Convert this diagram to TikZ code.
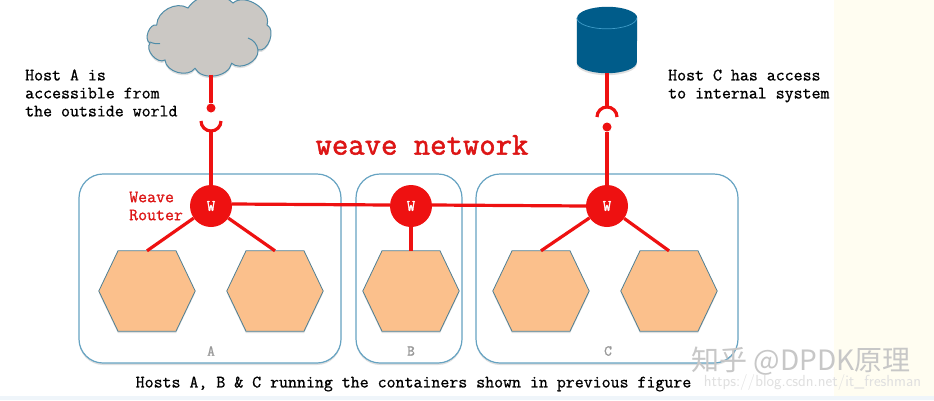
\documentclass[tikz,border=0pt]{standalone}
\usepackage{fontspec}
\newfontfamily\typefont[RawFeature={embolden=0.9}]{Latin Modern Mono}
\newfontfamily\heavyfont[RawFeature={embolden=1.6}]{Latin Modern Mono}
\newfontfamily\cjkfont{Noto Sans CJK SC}
\usetikzlibrary{shapes.geometric,shadows,calc}
\definecolor{weavered}{HTML}{EE1111}
\definecolor{titlered}{HTML}{DD1515}
\definecolor{hostblue}{HTML}{66A3C2}
\definecolor{hexfill}{HTML}{FBC08C}
\definecolor{hexline}{HTML}{4F7F93}
\definecolor{dbblue}{HTML}{005C8A}
\definecolor{dbrim}{HTML}{3F9CC8}
\definecolor{cloudgrey}{HTML}{CBC8C4}
\definecolor{cloudline}{HTML}{4F8CA8}
\definecolor{creamback}{HTML}{FFFDF1}
\definecolor{paleback}{HTML}{EFF5FA}
\tikzset{
  softshadow/.style = {drop shadow = {shadow xshift = 0pt, shadow yshift = -2pt, opacity = 0.25}},
  hostbox/.style = {draw = hostblue, line width = 1.2pt, rounded corners = 24pt, softshadow, fill = white, inner sep = 0pt},
  hexbox/.style = {minimum width = 96pt, minimum height = 80pt, inner sep = 0pt},
  redline/.style = {draw = weavered, line width = 3.2pt},
  routernode/.style = {circle, fill = weavered, minimum size = 42pt, inner sep = 0pt, text = white, font = \heavyfont\fontsize{16}{16}\selectfont},
  dotnode/.style = {circle, fill = weavered, minimum size = 9pt, inner sep = 0pt},
  note/.style = {font = \typefont\fontsize{17.4}{18}\selectfont, align = left, anchor = west, inner sep = 0pt},
  hostlabel/.style = {font = \heavyfont\fontsize{15}{15}\selectfont, text = black!40, inner sep = 0pt}
}
\begin{document}
\begin{tikzpicture}[x = 1pt, y = -1pt]
\useasboundingbox (0, 0) rectangle (934, 400);
\fill[white] (0, 0) rectangle (934, 400);
\fill[creamback] (834, 0) rectangle (934, 396);
\fill[paleback] (0, 396) rectangle (934, 400);
% cloud
\node[minimum width = 130pt, minimum height = 75pt, inner sep = 0pt] (cloudA) at (211, 37) {};
\draw[cloudline, line width = 1pt, fill = cloudgrey, softshadow] (231.7, 63.3) to[bend left = 70] (195, 68.3) to[bend left = 70] (165, 60) to[bend left = 80] (150, 43) to[bend left = 85] (156.7, 25) to[bend left = 60] (188, 8) to[bend left = 50] (233, 3) to[bend left = 75] (267, 25) to[bend left = 85] (258, 50) to[bend left = 70] cycle;
\draw[cloudline, line width = 1pt] (248, 38) to[bend left = 30] (258, 50);
\draw[cloudline, line width = 1pt] (150, 42) to[bend right = 15] (160, 43.5);
% database
\node[minimum width = 60pt, minimum height = 66pt, inner sep = 0pt] (dbC) at (607, 40) {};
\draw[fill = dbblue, draw = none, softshadow] ([yshift = -11pt]dbC.north west) -- ([yshift = 11pt]dbC.south west) arc[x radius = 30pt, y radius = 11pt, start angle = 180, end angle = 360] -- ([yshift = -11pt]dbC.north east) arc[x radius = 30pt, y radius = 11pt, start angle = 0, end angle = 180] -- cycle;
\draw[dbrim, line width = 0.7pt] ([yshift = -11pt]dbC.north west) arc[x radius = 30pt, y radius = 11pt, start angle = 180, end angle = 360];
\node[hostbox, minimum width = 262pt, minimum height = 189pt] (hostA) at (210, 268.5) {};
\node[hostbox, minimum width = 106pt, minimum height = 189pt] (hostB) at (409, 268.5) {};
\node[hostbox, minimum width = 262pt, minimum height = 189pt] (hostC) at (607, 268.5) {};
\foreach \name/\x in {hexA/147, hexB/275, hexC/411, hexD/541, hexE/669}{
  \node[hexbox] (\name) at (\x, 291) {};
  \draw[hexline, line width = 0.8pt, fill = hexfill, softshadow] (\name.west) -- ([xshift = -29pt]\name.north) -- ([xshift = 29pt]\name.north) -- (\name.east) -- ([xshift = 29pt]\name.south) -- ([xshift = -29pt]\name.south) -- cycle;
}
\node[routernode] (wA) at (211, 206) {W};
\node[routernode] (wB) at (411, 206) {W};
\node[routernode] (wC) at (607, 206) {W};
\node[dotnode] (dotA) at (211, 108) {};
\node[dotnode] (dotC) at (607, 127) {};
\coordinate (cupA) at (211, 131);
\coordinate (capC) at (607, 107);
% links between the routers
\draw[redline] ([yshift = 2pt]wA.east) -- ([yshift = 1pt]wB.west);
\draw[redline] ([yshift = 1pt]wB.east) -- (wC.west);
\foreach \a/\b in {wA/hexA, wA/hexB, wB/hexC, wC/hexD, wC/hexE}{\draw[redline] (\a) -- (\b.north);}
\draw[redline] (cloudA.south) -- (dotA);
\draw[redline] (cupA) -- (wA);
\draw[redline] (dbC.south) -- (capC);
\draw[redline] (dotC) -- (wC);
\draw[redline] ($(cupA) + (-10pt, 10pt)$) arc[start angle = 180, end angle = 360, radius = 10pt];
\draw[redline] ($(capC) + (-10pt, -10pt)$) arc[start angle = 180, end angle = 0, radius = 10pt];
\node[note] (noteA) at (25, 93) {Host A is\\accessible from\\the outside world};
\node[note] (noteC) at (668, 86) {Host C has access\\to internal system};
\node[note, text = titlered] (noteW) at (129, 206) {Weave\\Router};
\node[font = \heavyfont\fontsize{31.8}{30}\selectfont, text = titlered, inner sep = 0pt] (title) at (422, 145) {weave network};
\node[font = \typefont\fontsize{17.4}{18}\selectfont, inner sep = 0pt] (caption) at (413.5, 384) {Hosts A, B \& C running the containers shown in previous figure};
\node[hostlabel] (labelA) at (211, 351) {A};
\node[hostlabel] (labelB) at (411, 351) {B};
\node[hostlabel] (labelC) at (608, 351) {C};
% watermark
\node[font = \cjkfont\fontsize{28}{28}\selectfont, text = black!22, inner sep = 0pt] (markA) at (801, 361) {知乎 @DPDK原理};
\node[font = \sffamily\fontsize{16}{16}\selectfont, text = black!12, inner sep = 0pt] (markB) at (812.5, 382) {https://blog.csdn.net/it\_freshman};
\end{tikzpicture}
\end{document}
